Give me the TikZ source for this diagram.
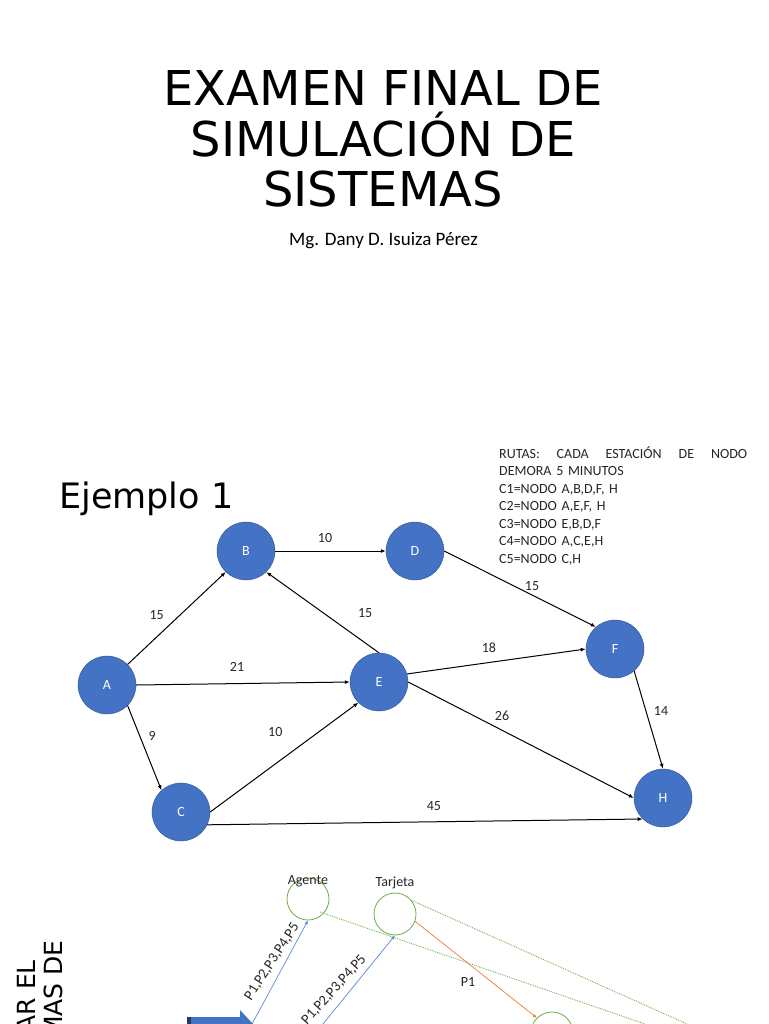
\documentclass[tikz,border=0pt]{standalone}
\usepackage{fontspec}
\setmainfont{Carlito}
\newfontfamily\headfont{DejaVu Sans}
\usetikzlibrary{arrows.meta,positioning}
\definecolor{nodeblue}{HTML}{4472C4}
\definecolor{nodeedge}{HTML}{2F528F}
\definecolor{lineblue}{HTML}{5B8BD8}
\definecolor{linegreen}{HTML}{70AD47}
\definecolor{lineorange}{HTML}{ED7D31}
\tikzset{
	estacion/.style={circle,draw=nodeedge,line width=0.4pt,fill=nodeblue,text=white,minimum size=58pt,inner sep=0pt,font=\fontsize{14}{16}\selectfont},
	peso/.style={font=\fontsize{14}{16}\selectfont,text=black!85},
	recurso/.style={circle,draw=linegreen,line width=0.8pt,minimum size=42pt,inner sep=0pt},
	rotulo/.style={font=\fontsize{14}{16}\selectfont,text=black!85},
	rutap/.style={font=\fontsize{14.5}{16}\selectfont,text=black!85},
	punteada/.style={draw=linegreen,densely dotted,line width=0.85pt}
}
\begin{document}
\begin{tikzpicture}[x=1pt,y=-1pt]
	\clip (0,0) rectangle (768,1024);
	\fill[white] (0,0) rectangle (768,1024);

	% titulo
	\node[align=center,font=\headfont\fontsize{48}{50.5}\selectfont] (titulo) at (383,139) {EXAMEN FINAL DE\\SIMULACIÓN DE\\SISTEMAS};
	\node[font=\fontsize{19}{21}\selectfont] (autor) at (383.5,240.5) {Mg. Dany D. Isuiza Pérez};
	\node[anchor=west,inner sep=0pt,font=\headfont\fontsize{35}{40}\selectfont] (ejemplo) at (59,499) {Ejemplo 1};
	\node[anchor=north west,inner sep=0pt,text width=248pt,font=\fontsize{14}{17.5}\selectfont,text=black!85] (rutas) at (499,446.5) {%
		\hbox to 248pt{RUTAS:\hfill CADA\hfill ESTACIÓN\hfill DE\hfill NODO}
		DEMORA 5 MINUTOS\\
		C1=NODO A,B,D,F, H\\
		C2=NODO A,E,F, H\\
		C3=NODO E,B,D,F\\
		C4=NODO A,C,E,H\\
		C5=NODO C,H};

	% grafo
	\begin{scope}[every node/.style={estacion}]
		\node (A) at (107,685) {A};
		\node (B) at (246,551) {B};
		\node (C) at (181,812) {C};
		\node (D) at (415,551) {D};
		\node (E) at (379,682) {E};
		\node (F) at (615,649) {F};
		\node (H) at (663,798) {H};
	\end{scope}

	\begin{scope}[every edge/.style={draw=black,line width=1pt,-{Latex[length=5pt,width=4pt]}},every node/.style={peso}]
		\path (A.45) edge node [xshift=-20pt,yshift=3pt] {15} (B.226);
		\path (A.east) edge node [xshift=-6pt,yshift=16.5pt] {21} (E.west);
		\path (A.-45) edge node [xshift=7.5pt,yshift=12pt] {9} (C.132);
		\path (C.east) edge node [xshift=-9pt,yshift=25.5pt] {10} (E.225);
		\path (C.-26) edge node [xshift=9pt,yshift=16pt] {45} (H.226);
		\path (B.east) edge node [xshift=-5.5pt,yshift=13pt] {10} (D.west);
		\path (E.north) edge node [xshift=42.5pt,yshift=-1pt] {15} (B.-46);
		\path (D.east) edge node [xshift=12pt,yshift=3pt] {15} (F.131);
		\path (E.16) edge node [xshift=-7.5pt,yshift=13.5pt] {18} (F.west);
		\path (E.east) edge node [xshift=-19pt,yshift=24pt] {26} (H.west);
		\path (F.-49) edge node [xshift=12.5pt,yshift=8.5pt] {14} (H.north);
	\end{scope}

	% parte inferior
	\node[recurso] (agente) at (308,899) {};
	\node[recurso] (tarjeta) at (395,914) {};
	\node[recurso] (cajero) at (552,1033) {};
	\node[rotulo] (tagente) at (308,881) {Agente};
	\node[rotulo] (ttarjeta) at (395,883) {Tarjeta};
	\node[rotulo] (tp) at (468,982) {P1};
	\coordinate (inicio) at (252,1024);
	\coordinate (inicio2) at (323,1024);
	\coordinate (salida) at (320,912);
	\coordinate (fin1) at (645,1024);
	\coordinate (fin2) at (687,1024);
	\draw[lineblue,line width=0.7pt,-{Latex[length=4pt,width=3.5pt]}] (inicio) -- (agente.south);
	\draw[lineblue,line width=0.7pt,-{Latex[length=4pt,width=3.5pt]}] (inicio2) -- (tarjeta.south);
	\draw[lineorange,line width=0.7pt,-{Latex[length=4pt,width=3.5pt]}] (tarjeta.-20) -- (cajero.north west);
	\draw[punteada] (salida) -- (fin1);
	\draw[punteada] (tarjeta.40) -- (fin2);
	\node[rutap,rotate=57] (p1) at (272,962) {P1,P2,P3,P4,P5};
	\node[rutap,rotate=48] (p2) at (334,990) {P1,P2,P3,P4,P5};
	\fill[nodeblue] (190,1017) -- (240,1017) -- (240,1010) -- (253,1024) -- (253,1030) -- (190,1030) -- cycle;
	\fill[nodeedge!70!black] (187,1017) rectangle (191,1030);
	\node[rotate=90,anchor=east,inner sep=0pt,font=\headfont\fontsize{25}{28}\selectfont] (t1) at (26,960) {AR EL};
	\node[rotate=90,anchor=east,inner sep=0pt,font=\headfont\fontsize{25}{28}\selectfont] (t2) at (53,940) {MAS DE};
\end{tikzpicture}
\end{document}
